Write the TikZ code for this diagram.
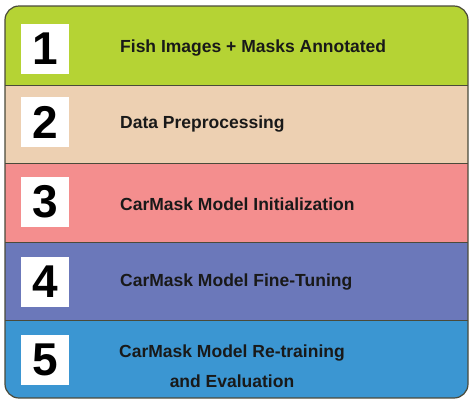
\documentclass[tikz,border=0pt]{standalone}
\usepackage{fontspec}
\setmainfont{Liberation Sans}
\definecolor{bgreen}{HTML}{B5D334}
\definecolor{btan}{HTML}{EDD0B2}
\definecolor{bpink}{HTML}{F48E8E}
\definecolor{bpurple}{HTML}{6B78BA}
\definecolor{bblue}{HTML}{3B96D2}
\definecolor{edgec}{HTML}{4A4A3A}
\begin{document}
\begin{tikzpicture}[x=1bp,y=-1bp,
  numbox/.style={fill=white,draw=none,minimum width=48bp,minimum height=50bp,inner sep=0pt,
    font=\fontsize{46bp}{46bp}\selectfont\bfseries},
  steptext/.style={anchor=west,inner sep=0pt,font=\fontsize{17.5bp}{30bp}\selectfont\bfseries,text=black!90},
  sep/.style={draw=edgec,line width=1bp}]
\useasboundingbox (0,0) rectangle (474,405);
\begin{scope}
\clip[rounded corners=14bp] (5,6) rectangle (468,398);
\fill[bgreen] (5,6) rectangle (468,85);
\fill[btan] (5,85) rectangle (468,163);
\fill[bpink] (5,163) rectangle (468,242);
\fill[bpurple] (5,242) rectangle (468,320);
\fill[bblue] (5,320) rectangle (470,398);
\end{scope}
\draw[sep] (5,85) -- (468,85);
\draw[sep] (5,163) -- (468,163);
\draw[sep] (5,242) -- (468,242);
\draw[sep] (5,320) -- (468,320);
\draw[edgec,line width=1.2bp,rounded corners=14bp] (5,6) rectangle (468,398);

\node[numbox] (n1) at (45,49) {1};
\node[numbox] (n2) at (45,122) {2};
\node[numbox] (n3) at (45,202) {3};
\node[numbox] (n4) at (45,282) {4};
\node[numbox] (n5) at (45,360) {5};

\node[steptext] (t1) at (120,48) {Fish Images + Masks Annotated};
\node[steptext] (t2) at (120,124) {Data Preprocessing};
\node[steptext] (t3) at (120,204) {CarMask Model Initialization};
\node[steptext] (t4) at (120,282) {CarMask Model Fine-Tuning};
\node[steptext,align=center] (t5) at (119,366) {CarMask Model Re-training\\and Evaluation};
\end{tikzpicture}
\end{document}
